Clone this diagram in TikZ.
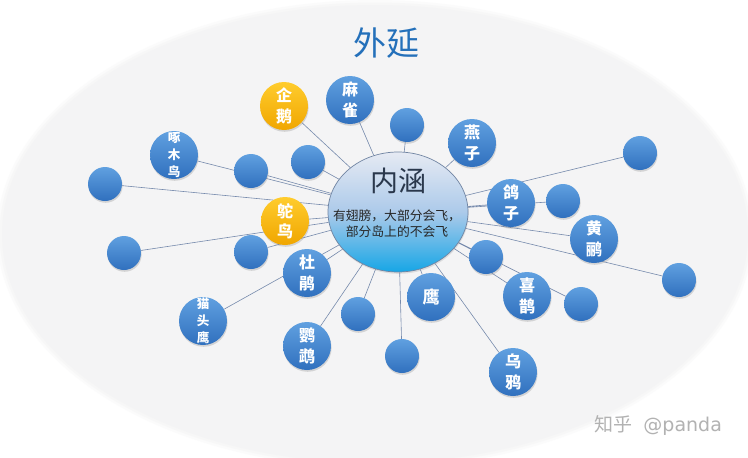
\documentclass[tikz,border=0pt]{standalone}
\usepackage{fontspec}
\setmainfont{Noto Sans CJK SC}
\newfontfamily\latinwide{DejaVu Sans}
\usetikzlibrary{shapes.geometric,shadows,backgrounds}

\definecolor{birdtop}{RGB}{96,160,224}
\definecolor{birdbot}{RGB}{48,112,190}
\definecolor{goldtop}{RGB}{255,204,45}
\definecolor{goldbot}{RGB}{240,166,0}
\definecolor{linkcol}{RGB}{118,138,172}
\definecolor{plate}{RGB}{244,244,245}
\definecolor{titleblue}{RGB}{36,112,186}
\definecolor{ink}{RGB}{42,56,76}
\definecolor{coretop}{RGB}{230,234,243}
\definecolor{coremid}{RGB}{172,202,234}
\definecolor{corebot}{RGB}{22,166,230}

\begin{document}
\begin{tikzpicture}[x=1pt,y=-1pt,
	bird/.style={circle, minimum size=48pt, inner sep=0pt, top color=birdtop, bottom color=birdbot,
		drop shadow={opacity=0.28, shadow xshift=0.6pt, shadow yshift=-1.8pt},
		text=white, align=center, font=\bfseries\fontsize{16}{20.5}\selectfont},
	smallbird/.style={bird, font=\bfseries\fontsize{12.5}{17}\selectfont},
	goldbird/.style={bird, top color=goldtop, bottom color=goldbot},
	blank/.style={bird, minimum size=34pt},
	link/.style={draw=linkcol, line width=0.6pt}]
	\useasboundingbox (0,0) rectangle (748,458);
	\node[text=titleblue, font=\fontsize{33}{36}\selectfont] (waiyan) at (386,43) {外延};
	\node[ellipse, minimum width=140pt, minimum height=120pt, draw={rgb,255:red,112;green,132;blue,162}, line width=0.7pt,
		top color=coretop, bottom color=corebot, middle color=coremid,
		drop shadow={opacity=0.2, shadow xshift=0.6pt, shadow yshift=-1.8pt}] (core) at (398,212) {};
	\node[text=ink, font=\fontsize{28}{30}\selectfont] (neihan) at (398,181) {内涵};
	\node[text=black!85, align=center, font=\fontsize{12.8}{16}\selectfont] (neihantext) at (397,224) {有翅膀，大部分会飞，\\部分岛上的不会飞};

	\node[goldbird] (qie) at (284,106) {企\\鹅};
	\node[bird] (maque) at (350,100) {麻\\雀};
	\node[blank] (b1) at (407,125) {};
	\node[bird] (yanzi) at (472,143) {燕\\子};
	\node[smallbird] (zhuomuniao) at (174,155) {啄\\木\\鸟};
	\node[blank] (b2) at (308,162) {};
	\node[blank] (b3) at (251,171) {};
	\node[blank] (b4) at (105,184) {};
	\node[blank] (b5) at (640,153) {};
	\node[bird] (gezi) at (511,203) {鸽\\子};
	\node[blank] (b6) at (563,201) {};
	\node[goldbird] (tuoniao) at (285,221) {鸵\\鸟};
	\node[bird] (huangli) at (594,239) {黄\\鹂};
	\node[blank] (b7) at (124,253) {};
	\node[blank] (b8) at (251,252) {};
	\node[blank] (b9) at (486,257) {};
	\node[bird] (dujuan) at (307,273) {杜\\鹃};
	\node[blank] (b10) at (679,280) {};
	\node[bird] (xique) at (527,296) {喜\\鹊};
	\node[bird, font=\bfseries\fontsize{17}{20}\selectfont] (ying) at (431,297) {鹰};
	\node[blank] (b11) at (581,304) {};
	\node[blank] (b12) at (358,314) {};
	\node[smallbird] (maotouying) at (203,321) {猫\\头\\鹰};
	\node[bird] (yingwu) at (307,346) {鹦\\鹉};
	\node[blank] (b13) at (402,356) {};
	\node[bird] (wuya) at (513,372) {乌\\鸦};

	\node[text=black!30, font=\fontsize{19}{21}\selectfont] (zhihu) at (658,425) {知乎\hspace{0.6em}{\latinwide @panda}};

	\begin{scope}[on background layer]
		\fill[white] (0,0) rectangle (748,458);
		\fill[plate, opacity=0.3] (375,234) ellipse (378 and 234);
		\fill[plate, opacity=0.5] (375,234) ellipse (375.5 and 231.5);
		\fill[plate] (375,234) ellipse (373 and 229);
		\draw[link] (core) -- (qie) (core) -- (maque) (core) -- (b1) (core) -- (yanzi)
			(core) -- (zhuomuniao) (core) -- (b2) (core) -- (b3) (core) -- (b4) (core) -- (b5)
			(core) -- (gezi) (core) -- (b6) (core) -- (tuoniao) (core) -- (huangli)
			(core) -- (b7) (core) -- (b8) (core) -- (b9) (core) -- (dujuan) (core) -- (b10)
			(core) -- (xique) (core) -- (ying) (core) -- (b11) (core) -- (b12)
			(core) -- (maotouying) (core) -- (yingwu) (core) -- (b13) (core) -- (wuya);
	\end{scope}
\end{tikzpicture}
\end{document}
